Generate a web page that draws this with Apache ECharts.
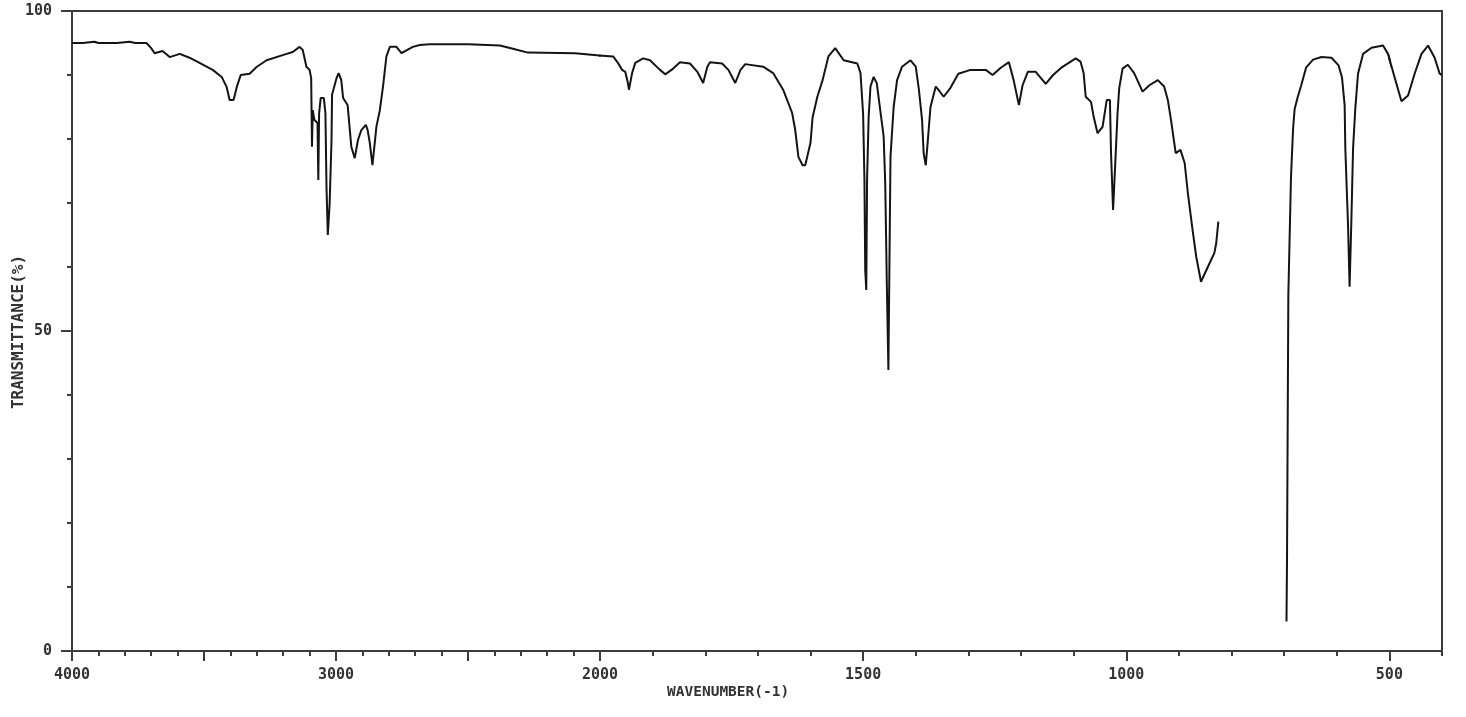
<!DOCTYPE html>
<html><head><meta charset="utf-8">
<script src="https://cdn.jsdelivr.net/npm/echarts@6/dist/echarts.min.js"></script>
<style>html,body{margin:0;padding:0;background:#fff}#c{width:1466px;height:717px}</style>
</head><body><div id="c"></div>
<script>
// IR spectrum: wavenumber (cm-1) and transmittance (%)
const wavenumber = [
 4000,3960,3915,3900,3830,3782,3760,3718,3700,3687,3657,3630,3592,3555,3517,3467,3433,3414,3403,3388,
 3376,3361,3327,3301,3263,3202,3164,3138,3126,3112,3100,3094,3091,3088,3082,3070,3067,3064,3058,3046,
 3040,3036,3031,3024,3017,3015,2998,2990,2980,2973,2956,2942,2929,2917,2904,2887,2880,2872,2862,2847,
 2834,2822,2809,2796,2771,2752,2709,2683,2645,2500,2379,2330,2273,2095,2012,
 1975,1966,1958,1952,1947,1945,1939,1933,1918,1905,1886,1876,1861,1848,1829,1815,1804,1796,1791,1768,
 1756,1743,1733,1724,1690,1671,1652,1635,1629,1623,1615,1610,1600,1596,1587,1577,1566,1553,1537,1511,
 1505,1500,1497.5,1496,1494,1492.5,1489.5,1486,1480,1474,1467.5,1461,1458,1455,1452,1448,1442,1435.5,1426,1410,
 1400,1394,1388,1385,1381,1378,1372,1362,1357,1347,1334,1319,1296,1267,1254,1239,1223,1214,1204,1197,
 1187,1172,1153,1139,1124,1096,1087,1081,1077,1067,1062,1054.5,1045,1037,1031,1029,1025,1020,1016.5,1013.4,
 1007,997,985,969,956,940,928,921,915,906,897,889,883,874,867,858,845,832.5,829,825,
 760,
 695.5,694.5,692,687,683,680,674,667.5,658,645,629,610,596.5,590,585,583.7,578.6,575.6,572.4,569,
 564.8,559.6,550,534,512,502.6,490,477,464.5,452,439,426.5,414,404.4,400
];
const transmittance = [
 95.0,95.0,95.2,95.0,95.0,95.2,95.0,95.0,94.2,93.4,93.75,92.8,93.3,92.7,91.9,90.8,89.7,88.1,86.1,86.1,
 88.1,90.0,90.2,91.25,92.3,93.1,93.6,94.4,93.9,91.3,90.8,89.5,78.8,84.5,83.0,82.5,73.6,84.0,86.4,86.4,
 84.0,72.5,65.0,70.0,79.8,86.9,89.5,90.3,89.2,86.4,85.3,78.8,77.0,79.8,81.4,82.2,81.4,79.4,75.9,81.9,
 84.5,88.2,92.9,94.4,94.4,93.4,94.4,94.7,94.8,94.8,94.6,94.1,93.5,93.4,93.1,
 92.9,91.9,90.8,90.5,88.75,87.7,90.3,91.9,92.6,92.3,90.8,90.1,91.0,92.0,91.8,90.5,88.75,91.3,92.0,91.8,
 90.8,88.75,90.8,91.7,91.3,90.3,87.7,84.1,81.4,77.2,75.9,75.9,79.4,83.4,86.6,89.2,92.9,94.2,92.3,91.8,
 90.3,83.9,73.6,59.5,56.4,73.6,83.5,88.2,89.7,88.7,84.5,80.4,73.1,57.5,43.9,77.2,85.0,89.2,91.3,92.3,
 91.3,87.7,83.0,77.8,75.9,78.8,85.0,88.2,87.7,86.6,88.0,90.2,90.8,90.8,90.0,91.1,92.0,89.2,85.3,88.4,
 90.5,90.5,88.6,90.0,91.1,92.6,92.1,90.3,86.6,85.8,83.5,80.9,81.9,86.1,86.1,78.0,68.9,77.8,84.1,87.9,
 91.0,91.6,90.3,87.4,88.4,89.2,88.2,86.1,83.0,77.8,78.3,76.25,71.6,65.8,61.6,57.7,60.0,62.2,63.75,67.1,
 null,
 4.6,14.2,55.6,73.9,81.6,84.7,86.6,88.4,91.2,92.4,92.8,92.7,91.5,89.6,85.3,78.5,66.7,56.9,66.7,78.5,
 84.7,90.2,93.3,94.25,94.6,93.3,89.6,85.9,86.8,90.2,93.3,94.6,92.7,90.2,90.0
];
const yTickLabels = [0, 50, 100];
const xLabelsHigh = [4000, 3000, 2000];
const xLabelsLow = [1500, 1000, 500];

const FONT = "'DejaVu Sans Mono', monospace";
const AX = '#3c3c3c';
const TXT = '#333';

// the x scale changes at 2000 cm-1; three panels: 4000-2000, 2000-500, 500-400
const panels = [
  {lo: 2000, hi: 4000, left: 72,  width: 528, interval: 500, minor: true,  labels: xLabelsHigh},
  {lo: 500,  hi: 2000, left: 600, width: 842 * 1500 / 1600, interval: 500, minor: true, labels: xLabelsLow},
  {lo: 400,  hi: 500,  left: 600 + 842 * 1500 / 1600, width: 842 * 100 / 1600, interval: 100, minor: false, labels: []}
];

function segment(lo, hi) {
  const inside = w => w >= lo && w <= hi;
  const out = [];
  for (let i = 0; i < wavenumber.length; i++) {
    const ok = inside(wavenumber[i]) ||
      (i > 0 && inside(wavenumber[i-1])) ||
      (i < wavenumber.length - 1 && inside(wavenumber[i+1]));
    if (ok) out.push([wavenumber[i], transmittance[i] === null ? '-' : transmittance[i]]);
  }
  return out;
}

const chart = echarts.init(document.getElementById('c'), null, {renderer: 'canvas'});
const labelStyle = {color: TXT, fontFamily: FONT, fontSize: 15, fontWeight: 'bold'};
const axLine = {show: true, lineStyle: {color: AX, width: 2}};

const grid = [], xAxis = [], yAxis = [], series = [];
panels.forEach((p, i) => {
  grid.push({left: p.left, width: p.width, top: 11, bottom: 66});
  xAxis.push({
    type: 'value', gridIndex: i, min: p.lo, max: p.hi, interval: p.interval, inverse: true,
    position: 'bottom',
    axisLine: axLine,
    axisTick: {show: true, length: p.minor ? 10 : 5, lineStyle: {color: AX, width: 2}},
    minorTick: {show: p.minor, splitNumber: 5, length: 5, lineStyle: {color: AX, width: 2}},
    splitLine: {show: false},
    axisLabel: {...labelStyle, margin: 17, showMinLabel: true, showMaxLabel: true,
      formatter: v => p.labels.includes(v) ? String(v) : ''}
  });
  const isFirst = i === 0, isLast = i === panels.length - 1;
  yAxis.push(isFirst ? {
    type: 'value', gridIndex: i, min: 0, max: 100, interval: 50, position: 'left',
    axisLine: axLine,
    axisTick: {show: true, length: 11, lineStyle: {color: AX, width: 2}},
    minorTick: {show: true, splitNumber: 5, length: 5, lineStyle: {color: AX, width: 2}},
    splitLine: {show: false},
    axisLabel: {...labelStyle, margin: 20, formatter: v => yTickLabels.includes(v) ? String(v) : ''}
  } : {
    type: 'value', gridIndex: i, min: 0, max: 100, position: 'right',
    axisLine: {show: isLast, lineStyle: {color: AX, width: 2}},
    axisTick: {show: false}, axisLabel: {show: false}, splitLine: {show: false}
  });
  series.push({
    type: 'line', xAxisIndex: i, yAxisIndex: i, data: segment(p.lo, p.hi),
    showSymbol: false, clip: true, connectNulls: false,
    lineStyle: {color: '#141414', width: 2}
  });
});
// top frame line for each panel
panels.forEach((p, i) => {
  xAxis.push({
    type: 'value', gridIndex: i, min: p.lo, max: p.hi, inverse: true, position: 'top',
    axisLine: axLine, axisTick: {show: false}, axisLabel: {show: false}, splitLine: {show: false}
  });
});

chart.setOption({
  animation: false,
  backgroundColor: '#fff',
  grid, xAxis, yAxis, series,
  graphic: [
    {
      type: 'text', left: 667, top: 685,
      style: {text: 'WAVENUMBER(-1)', fill: TXT, font: "bold 14.5px 'DejaVu Sans Mono', monospace"}
    },
    {
      type: 'text', x: 19, y: 332, rotation: Math.PI / 2,
      style: {text: 'TRANSMITTANCE(%)', fill: TXT, align: 'center', verticalAlign: 'middle',
        font: "bold 16px 'DejaVu Sans Mono', monospace"}
    }
  ]
});
</script></body></html>
